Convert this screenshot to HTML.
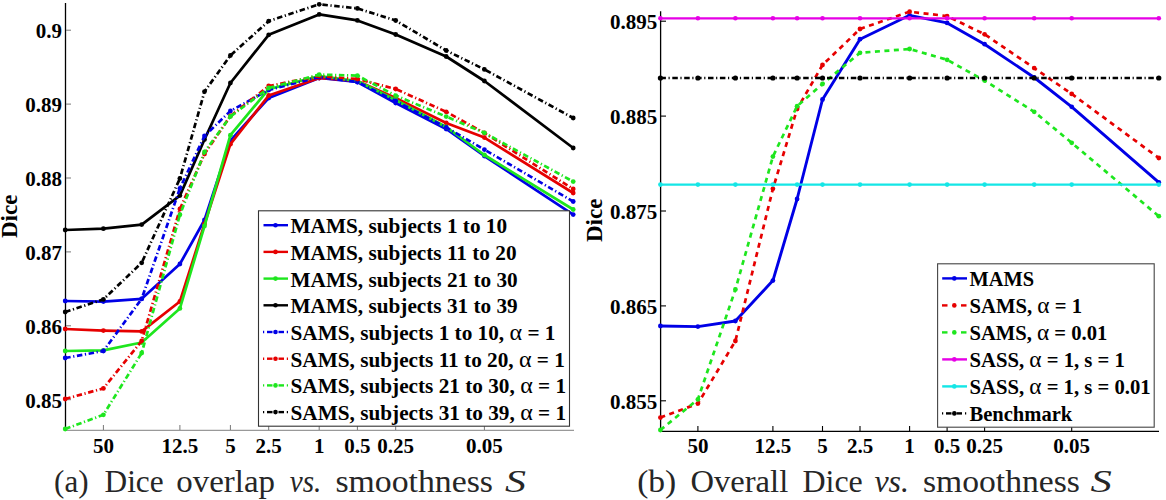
<!DOCTYPE html>
<html><head><meta charset="utf-8"><style>
html,body{margin:0;padding:0;background:#fff;overflow:hidden;width:1166px;height:500px;}
svg{display:block;}
.tk{font-family:"Liberation Serif",serif;font-weight:bold;font-size:21px;fill:#000;}
.yl{font-family:"Liberation Serif",serif;font-weight:bold;font-size:23px;fill:#000;}
.lg{font-family:"Liberation Serif",serif;font-weight:bold;font-size:21.25px;fill:#000;}
.al{font-weight:normal;font-size:24px;}
.cap{font-family:"Liberation Serif",serif;font-size:31.5px;fill:#262626;}
</style></head><body>
<svg width="1166" height="500" viewBox="0 0 1166 500">
<rect width="1166" height="500" fill="#fff"/>
<line x1="65.5" y1="3" x2="65.5" y2="430.5" stroke="#000" stroke-width="1.3"/>
<line x1="65.5" y1="430.3" x2="574" y2="430.3" stroke="#999" stroke-width="1.3"/>
<line x1="66" y1="30.2" x2="71" y2="30.2" stroke="#777" stroke-width="1"/>
<text x="62" y="38.0" text-anchor="end" class="tk">0.9</text>
<line x1="66" y1="104.1" x2="71" y2="104.1" stroke="#777" stroke-width="1"/>
<text x="62" y="111.89999999999999" text-anchor="end" class="tk">0.89</text>
<line x1="66" y1="178" x2="71" y2="178" stroke="#777" stroke-width="1"/>
<text x="62" y="185.8" text-anchor="end" class="tk">0.88</text>
<line x1="66" y1="251.9" x2="71" y2="251.9" stroke="#777" stroke-width="1"/>
<text x="62" y="259.7" text-anchor="end" class="tk">0.87</text>
<line x1="66" y1="325.8" x2="71" y2="325.8" stroke="#777" stroke-width="1"/>
<text x="62" y="333.6" text-anchor="end" class="tk">0.86</text>
<line x1="66" y1="399.7" x2="71" y2="399.7" stroke="#777" stroke-width="1"/>
<text x="62" y="407.5" text-anchor="end" class="tk">0.85</text>
<line x1="103.4" y1="430" x2="103.4" y2="425" stroke="#777" stroke-width="1"/>
<text x="103.4" y="452.8" text-anchor="middle" class="tk">50</text>
<line x1="179.9" y1="430" x2="179.9" y2="425" stroke="#777" stroke-width="1"/>
<text x="179.9" y="452.8" text-anchor="middle" class="tk">12.5</text>
<line x1="230.4" y1="430" x2="230.4" y2="425" stroke="#777" stroke-width="1"/>
<text x="230.4" y="452.8" text-anchor="middle" class="tk">5</text>
<line x1="268.7" y1="430" x2="268.7" y2="425" stroke="#777" stroke-width="1"/>
<text x="268.7" y="452.8" text-anchor="middle" class="tk">2.5</text>
<line x1="319.2" y1="430" x2="319.2" y2="425" stroke="#777" stroke-width="1"/>
<text x="319.2" y="452.8" text-anchor="middle" class="tk">1</text>
<line x1="357.4" y1="430" x2="357.4" y2="425" stroke="#777" stroke-width="1"/>
<text x="357.4" y="452.8" text-anchor="middle" class="tk">0.5</text>
<line x1="395.7" y1="430" x2="395.7" y2="425" stroke="#777" stroke-width="1"/>
<text x="395.7" y="452.8" text-anchor="middle" class="tk">0.25</text>
<line x1="484.4" y1="430" x2="484.4" y2="425" stroke="#777" stroke-width="1"/>
<text x="484.4" y="452.8" text-anchor="middle" class="tk">0.05</text>
<polyline points="65.2,301.0 103.4,301.6 141.7,298.8 179.9,264.0 204.5,220.0 230.4,140.6 268.7,98.0 319.2,78.0 357.4,82.0 395.7,103.0 446.2,129.0 484.4,156.0 573.2,214.6" fill="none" stroke="#0000e6" stroke-width="2.7" stroke-linejoin="round"/><circle cx="65.2" cy="301.0" r="2.4" fill="#0000e6"/><circle cx="103.4" cy="301.6" r="2.4" fill="#0000e6"/><circle cx="141.7" cy="298.8" r="2.4" fill="#0000e6"/><circle cx="179.9" cy="264.0" r="2.4" fill="#0000e6"/><circle cx="204.5" cy="220.0" r="2.4" fill="#0000e6"/><circle cx="230.4" cy="140.6" r="2.4" fill="#0000e6"/><circle cx="268.7" cy="98.0" r="2.4" fill="#0000e6"/><circle cx="319.2" cy="78.0" r="2.4" fill="#0000e6"/><circle cx="357.4" cy="82.0" r="2.4" fill="#0000e6"/><circle cx="395.7" cy="103.0" r="2.4" fill="#0000e6"/><circle cx="446.2" cy="129.0" r="2.4" fill="#0000e6"/><circle cx="484.4" cy="156.0" r="2.4" fill="#0000e6"/><circle cx="573.2" cy="214.6" r="2.4" fill="#0000e6"/>
<polyline points="65.2,329.0 103.4,330.6 141.7,331.4 179.9,301.5 204.5,224.0 230.4,144.2 268.7,95.5 319.2,78.0 357.4,81.0 395.7,98.0 446.2,123.0 484.4,137.6 573.2,193.0" fill="none" stroke="#e60000" stroke-width="2.7" stroke-linejoin="round"/><circle cx="65.2" cy="329.0" r="2.4" fill="#e60000"/><circle cx="103.4" cy="330.6" r="2.4" fill="#e60000"/><circle cx="141.7" cy="331.4" r="2.4" fill="#e60000"/><circle cx="179.9" cy="301.5" r="2.4" fill="#e60000"/><circle cx="204.5" cy="224.0" r="2.4" fill="#e60000"/><circle cx="230.4" cy="144.2" r="2.4" fill="#e60000"/><circle cx="268.7" cy="95.5" r="2.4" fill="#e60000"/><circle cx="319.2" cy="78.0" r="2.4" fill="#e60000"/><circle cx="357.4" cy="81.0" r="2.4" fill="#e60000"/><circle cx="395.7" cy="98.0" r="2.4" fill="#e60000"/><circle cx="446.2" cy="123.0" r="2.4" fill="#e60000"/><circle cx="484.4" cy="137.6" r="2.4" fill="#e60000"/><circle cx="573.2" cy="193.0" r="2.4" fill="#e60000"/>
<polyline points="65.2,351.0 103.4,350.4 141.7,342.5 179.9,308.4 204.5,226.0 230.4,135.2 268.7,89.2 319.2,76.0 357.4,81.0 395.7,100.0 446.2,127.0 484.4,155.0 573.2,209.5" fill="none" stroke="#1ee61e" stroke-width="2.7" stroke-linejoin="round"/><circle cx="65.2" cy="351.0" r="2.4" fill="#1ee61e"/><circle cx="103.4" cy="350.4" r="2.4" fill="#1ee61e"/><circle cx="141.7" cy="342.5" r="2.4" fill="#1ee61e"/><circle cx="179.9" cy="308.4" r="2.4" fill="#1ee61e"/><circle cx="204.5" cy="226.0" r="2.4" fill="#1ee61e"/><circle cx="230.4" cy="135.2" r="2.4" fill="#1ee61e"/><circle cx="268.7" cy="89.2" r="2.4" fill="#1ee61e"/><circle cx="319.2" cy="76.0" r="2.4" fill="#1ee61e"/><circle cx="357.4" cy="81.0" r="2.4" fill="#1ee61e"/><circle cx="395.7" cy="100.0" r="2.4" fill="#1ee61e"/><circle cx="446.2" cy="127.0" r="2.4" fill="#1ee61e"/><circle cx="484.4" cy="155.0" r="2.4" fill="#1ee61e"/><circle cx="573.2" cy="209.5" r="2.4" fill="#1ee61e"/>
<polyline points="65.2,230.0 103.4,228.7 141.7,224.6 179.9,195.6 204.5,139.5 230.4,83.0 268.7,34.8 319.2,14.4 357.4,20.4 395.7,34.5 446.2,56.5 484.4,81.0 573.2,148.0" fill="none" stroke="#000" stroke-width="2.7" stroke-linejoin="round"/><circle cx="65.2" cy="230.0" r="2.4" fill="#000"/><circle cx="103.4" cy="228.7" r="2.4" fill="#000"/><circle cx="141.7" cy="224.6" r="2.4" fill="#000"/><circle cx="179.9" cy="195.6" r="2.4" fill="#000"/><circle cx="204.5" cy="139.5" r="2.4" fill="#000"/><circle cx="230.4" cy="83.0" r="2.4" fill="#000"/><circle cx="268.7" cy="34.8" r="2.4" fill="#000"/><circle cx="319.2" cy="14.4" r="2.4" fill="#000"/><circle cx="357.4" cy="20.4" r="2.4" fill="#000"/><circle cx="395.7" cy="34.5" r="2.4" fill="#000"/><circle cx="446.2" cy="56.5" r="2.4" fill="#000"/><circle cx="484.4" cy="81.0" r="2.4" fill="#000"/><circle cx="573.2" cy="148.0" r="2.4" fill="#000"/>
<polyline points="65.2,358.0 103.4,351.0 141.7,298.8 179.9,188.4 204.5,136.0 230.4,111.0 268.7,90.0 319.2,77.0 357.4,82.0 395.7,101.0 446.2,127.4 484.4,149.6 573.2,201.5" fill="none" stroke="#0000e6" stroke-width="2.7" stroke-dasharray="5.5 2.6 1.2 2.6" stroke-linejoin="round"/><circle cx="65.2" cy="358.0" r="2.4" fill="#0000e6"/><circle cx="103.4" cy="351.0" r="2.4" fill="#0000e6"/><circle cx="141.7" cy="298.8" r="2.4" fill="#0000e6"/><circle cx="179.9" cy="188.4" r="2.4" fill="#0000e6"/><circle cx="204.5" cy="136.0" r="2.4" fill="#0000e6"/><circle cx="230.4" cy="111.0" r="2.4" fill="#0000e6"/><circle cx="268.7" cy="90.0" r="2.4" fill="#0000e6"/><circle cx="319.2" cy="77.0" r="2.4" fill="#0000e6"/><circle cx="357.4" cy="82.0" r="2.4" fill="#0000e6"/><circle cx="395.7" cy="101.0" r="2.4" fill="#0000e6"/><circle cx="446.2" cy="127.4" r="2.4" fill="#0000e6"/><circle cx="484.4" cy="149.6" r="2.4" fill="#0000e6"/><circle cx="573.2" cy="201.5" r="2.4" fill="#0000e6"/>
<polyline points="65.2,399.0 103.4,388.4 141.7,341.0 179.9,209.0 204.5,154.0 230.4,116.0 268.7,86.0 319.2,76.0 357.4,79.0 395.7,89.0 446.2,111.8 484.4,133.0 573.2,189.0" fill="none" stroke="#e60000" stroke-width="2.7" stroke-dasharray="5.5 2.6 1.2 2.6" stroke-linejoin="round"/><circle cx="65.2" cy="399.0" r="2.4" fill="#e60000"/><circle cx="103.4" cy="388.4" r="2.4" fill="#e60000"/><circle cx="141.7" cy="341.0" r="2.4" fill="#e60000"/><circle cx="179.9" cy="209.0" r="2.4" fill="#e60000"/><circle cx="204.5" cy="154.0" r="2.4" fill="#e60000"/><circle cx="230.4" cy="116.0" r="2.4" fill="#e60000"/><circle cx="268.7" cy="86.0" r="2.4" fill="#e60000"/><circle cx="319.2" cy="76.0" r="2.4" fill="#e60000"/><circle cx="357.4" cy="79.0" r="2.4" fill="#e60000"/><circle cx="395.7" cy="89.0" r="2.4" fill="#e60000"/><circle cx="446.2" cy="111.8" r="2.4" fill="#e60000"/><circle cx="484.4" cy="133.0" r="2.4" fill="#e60000"/><circle cx="573.2" cy="189.0" r="2.4" fill="#e60000"/>
<polyline points="65.2,429.0 103.4,414.8 141.7,353.0 179.9,214.8 204.5,152.0 230.4,116.5 268.7,88.0 319.2,74.6 357.4,75.6 395.7,95.6 446.2,116.6 484.4,132.8 573.2,181.6" fill="none" stroke="#1ee61e" stroke-width="2.7" stroke-dasharray="5.5 2.6 1.2 2.6" stroke-linejoin="round"/><circle cx="65.2" cy="429.0" r="2.4" fill="#1ee61e"/><circle cx="103.4" cy="414.8" r="2.4" fill="#1ee61e"/><circle cx="141.7" cy="353.0" r="2.4" fill="#1ee61e"/><circle cx="179.9" cy="214.8" r="2.4" fill="#1ee61e"/><circle cx="204.5" cy="152.0" r="2.4" fill="#1ee61e"/><circle cx="230.4" cy="116.5" r="2.4" fill="#1ee61e"/><circle cx="268.7" cy="88.0" r="2.4" fill="#1ee61e"/><circle cx="319.2" cy="74.6" r="2.4" fill="#1ee61e"/><circle cx="357.4" cy="75.6" r="2.4" fill="#1ee61e"/><circle cx="395.7" cy="95.6" r="2.4" fill="#1ee61e"/><circle cx="446.2" cy="116.6" r="2.4" fill="#1ee61e"/><circle cx="484.4" cy="132.8" r="2.4" fill="#1ee61e"/><circle cx="573.2" cy="181.6" r="2.4" fill="#1ee61e"/>
<polyline points="65.2,312.0 103.4,299.4 141.7,262.8 179.9,178.5 204.5,91.6 230.4,55.5 268.7,21.1 319.2,4.3 357.4,8.4 395.7,20.5 446.2,50.5 484.4,69.4 573.2,118.0" fill="none" stroke="#000" stroke-width="2.7" stroke-dasharray="5.5 2.6 1.2 2.6" stroke-linejoin="round"/><circle cx="65.2" cy="312.0" r="2.4" fill="#000"/><circle cx="103.4" cy="299.4" r="2.4" fill="#000"/><circle cx="141.7" cy="262.8" r="2.4" fill="#000"/><circle cx="179.9" cy="178.5" r="2.4" fill="#000"/><circle cx="204.5" cy="91.6" r="2.4" fill="#000"/><circle cx="230.4" cy="55.5" r="2.4" fill="#000"/><circle cx="268.7" cy="21.1" r="2.4" fill="#000"/><circle cx="319.2" cy="4.3" r="2.4" fill="#000"/><circle cx="357.4" cy="8.4" r="2.4" fill="#000"/><circle cx="395.7" cy="20.5" r="2.4" fill="#000"/><circle cx="446.2" cy="50.5" r="2.4" fill="#000"/><circle cx="484.4" cy="69.4" r="2.4" fill="#000"/><circle cx="573.2" cy="118.0" r="2.4" fill="#000"/>
<text transform="translate(17,238) rotate(-90)" class="yl">Dice</text>
<rect x="258.5" y="210.8" width="311" height="215.4" fill="#fff" stroke="#333" stroke-width="1.1"/>
<line x1="263.5" y1="225.2" x2="288" y2="225.2" stroke="#0000e6" stroke-width="2.4"/>
<circle cx="275.5" cy="225.2" r="2.3" fill="#0000e6"/>
<text x="290.5" y="233.2" class="lg">MAMS, subjects 1 to 10</text>
<line x1="263.5" y1="251.9" x2="288" y2="251.9" stroke="#e60000" stroke-width="2.4"/>
<circle cx="275.5" cy="251.9" r="2.3" fill="#e60000"/>
<text x="290.5" y="259.9" class="lg">MAMS, subjects 11 to 20</text>
<line x1="263.5" y1="278.6" x2="288" y2="278.6" stroke="#1ee61e" stroke-width="2.4"/>
<circle cx="275.5" cy="278.6" r="2.3" fill="#1ee61e"/>
<text x="290.5" y="286.6" class="lg">MAMS, subjects 21 to 30</text>
<line x1="263.5" y1="305.3" x2="288" y2="305.3" stroke="#000" stroke-width="2.4"/>
<circle cx="275.5" cy="305.3" r="2.3" fill="#000"/>
<text x="290.5" y="313.3" class="lg">MAMS, subjects 31 to 39</text>
<line x1="263" y1="332.0" x2="264.2" y2="332.0" stroke="#0000e6" stroke-width="2.4"/>
<line x1="267" y1="332.0" x2="272.5" y2="332.0" stroke="#0000e6" stroke-width="2.4"/>
<line x1="278.5" y1="332.0" x2="284" y2="332.0" stroke="#0000e6" stroke-width="2.4"/>
<line x1="286.8" y1="332.0" x2="288" y2="332.0" stroke="#0000e6" stroke-width="2.4"/>
<circle cx="275.5" cy="332.0" r="2.3" fill="#0000e6"/>
<text x="290.5" y="340.0" class="lg">SAMS, subjects 1 to 10, <tspan class="al">α</tspan> = 1</text>
<line x1="263" y1="358.7" x2="264.2" y2="358.7" stroke="#e60000" stroke-width="2.4"/>
<line x1="267" y1="358.7" x2="272.5" y2="358.7" stroke="#e60000" stroke-width="2.4"/>
<line x1="278.5" y1="358.7" x2="284" y2="358.7" stroke="#e60000" stroke-width="2.4"/>
<line x1="286.8" y1="358.7" x2="288" y2="358.7" stroke="#e60000" stroke-width="2.4"/>
<circle cx="275.5" cy="358.7" r="2.3" fill="#e60000"/>
<text x="290.5" y="366.7" class="lg">SAMS, subjects 11 to 20, <tspan class="al">α</tspan> = 1</text>
<line x1="263" y1="385.4" x2="264.2" y2="385.4" stroke="#1ee61e" stroke-width="2.4"/>
<line x1="267" y1="385.4" x2="272.5" y2="385.4" stroke="#1ee61e" stroke-width="2.4"/>
<line x1="278.5" y1="385.4" x2="284" y2="385.4" stroke="#1ee61e" stroke-width="2.4"/>
<line x1="286.8" y1="385.4" x2="288" y2="385.4" stroke="#1ee61e" stroke-width="2.4"/>
<circle cx="275.5" cy="385.4" r="2.3" fill="#1ee61e"/>
<text x="290.5" y="393.4" class="lg">SAMS, subjects 21 to 30, <tspan class="al">α</tspan> = 1</text>
<line x1="263" y1="412.1" x2="264.2" y2="412.1" stroke="#000" stroke-width="2.4"/>
<line x1="267" y1="412.1" x2="272.5" y2="412.1" stroke="#000" stroke-width="2.4"/>
<line x1="278.5" y1="412.1" x2="284" y2="412.1" stroke="#000" stroke-width="2.4"/>
<line x1="286.8" y1="412.1" x2="288" y2="412.1" stroke="#000" stroke-width="2.4"/>
<circle cx="275.5" cy="412.1" r="2.3" fill="#000"/>
<text x="290.5" y="420.1" class="lg">SAMS, subjects 31 to 39, <tspan class="al">α</tspan> = 1</text>
<line x1="660.6" y1="11.2" x2="660.6" y2="431.5" stroke="#000" stroke-width="1.3"/>
<line x1="660.6" y1="431.4" x2="1159" y2="431.4" stroke="#000" stroke-width="1.2"/>
<line x1="661" y1="21.2" x2="666" y2="21.2" stroke="#000" stroke-width="1.1"/>
<text x="657.2" y="29.0" text-anchor="end" class="tk">0.895</text>
<line x1="661" y1="116.1" x2="666" y2="116.1" stroke="#000" stroke-width="1.1"/>
<text x="657.2" y="123.89999999999999" text-anchor="end" class="tk">0.885</text>
<line x1="661" y1="211" x2="666" y2="211" stroke="#000" stroke-width="1.1"/>
<text x="657.2" y="218.8" text-anchor="end" class="tk">0.875</text>
<line x1="661" y1="305.9" x2="666" y2="305.9" stroke="#000" stroke-width="1.1"/>
<text x="657.2" y="313.7" text-anchor="end" class="tk">0.865</text>
<line x1="661" y1="400.8" x2="666" y2="400.8" stroke="#000" stroke-width="1.1"/>
<text x="657.2" y="408.6" text-anchor="end" class="tk">0.855</text>
<line x1="697.9" y1="431" x2="697.9" y2="426" stroke="#000" stroke-width="1.1"/>
<text x="697.9" y="453.0" text-anchor="middle" class="tk">50</text>
<line x1="772.9" y1="431" x2="772.9" y2="426" stroke="#000" stroke-width="1.1"/>
<text x="772.9" y="453.0" text-anchor="middle" class="tk">12.5</text>
<line x1="822.5" y1="431" x2="822.5" y2="426" stroke="#000" stroke-width="1.1"/>
<text x="822.5" y="453.0" text-anchor="middle" class="tk">5</text>
<line x1="860.0" y1="431" x2="860.0" y2="426" stroke="#000" stroke-width="1.1"/>
<text x="860.0" y="453.0" text-anchor="middle" class="tk">2.5</text>
<line x1="909.6" y1="431" x2="909.6" y2="426" stroke="#000" stroke-width="1.1"/>
<text x="909.6" y="453.0" text-anchor="middle" class="tk">1</text>
<line x1="947.1" y1="431" x2="947.1" y2="426" stroke="#000" stroke-width="1.1"/>
<text x="947.1" y="453.0" text-anchor="middle" class="tk">0.5</text>
<line x1="984.6" y1="431" x2="984.6" y2="426" stroke="#000" stroke-width="1.1"/>
<text x="984.6" y="453.0" text-anchor="middle" class="tk">0.25</text>
<line x1="1071.7" y1="431" x2="1071.7" y2="426" stroke="#000" stroke-width="1.1"/>
<text x="1071.7" y="453.0" text-anchor="middle" class="tk">0.05</text>
<polyline points="660.4,326.0 697.9,326.6 735.4,321.0 772.9,280.6 797.1,199.0 822.5,99.5 860.0,39.2 909.6,15.3 947.1,22.9 984.6,44.2 1034.2,77.5 1071.7,106.8 1158.8,182.4" fill="none" stroke="#0000e6" stroke-width="2.9" stroke-linejoin="round"/><circle cx="660.4" cy="326.0" r="2.4" fill="#0000e6"/><circle cx="697.9" cy="326.6" r="2.4" fill="#0000e6"/><circle cx="735.4" cy="321.0" r="2.4" fill="#0000e6"/><circle cx="772.9" cy="280.6" r="2.4" fill="#0000e6"/><circle cx="797.1" cy="199.0" r="2.4" fill="#0000e6"/><circle cx="822.5" cy="99.5" r="2.4" fill="#0000e6"/><circle cx="860.0" cy="39.2" r="2.4" fill="#0000e6"/><circle cx="909.6" cy="15.3" r="2.4" fill="#0000e6"/><circle cx="947.1" cy="22.9" r="2.4" fill="#0000e6"/><circle cx="984.6" cy="44.2" r="2.4" fill="#0000e6"/><circle cx="1034.2" cy="77.5" r="2.4" fill="#0000e6"/><circle cx="1071.7" cy="106.8" r="2.4" fill="#0000e6"/><circle cx="1158.8" cy="182.4" r="2.4" fill="#0000e6"/>
<polyline points="660.4,417.6 697.9,403.6 735.4,341.0 772.9,188.8 797.1,109.0 822.5,65.0 860.0,29.0 909.6,11.7 947.1,16.1 984.6,34.3 1034.2,68.1 1071.7,93.9 1158.8,158.0" fill="none" stroke="#e60000" stroke-width="2.7" stroke-dasharray="5 4.5" stroke-linejoin="round"/><circle cx="660.4" cy="417.6" r="2.4" fill="#e60000"/><circle cx="697.9" cy="403.6" r="2.4" fill="#e60000"/><circle cx="735.4" cy="341.0" r="2.4" fill="#e60000"/><circle cx="772.9" cy="188.8" r="2.4" fill="#e60000"/><circle cx="797.1" cy="109.0" r="2.4" fill="#e60000"/><circle cx="822.5" cy="65.0" r="2.4" fill="#e60000"/><circle cx="860.0" cy="29.0" r="2.4" fill="#e60000"/><circle cx="909.6" cy="11.7" r="2.4" fill="#e60000"/><circle cx="947.1" cy="16.1" r="2.4" fill="#e60000"/><circle cx="984.6" cy="34.3" r="2.4" fill="#e60000"/><circle cx="1034.2" cy="68.1" r="2.4" fill="#e60000"/><circle cx="1071.7" cy="93.9" r="2.4" fill="#e60000"/><circle cx="1158.8" cy="158.0" r="2.4" fill="#e60000"/>
<polyline points="660.4,430.0 697.9,399.4 735.4,289.5 772.9,156.6 797.1,106.2 822.5,84.0 860.0,52.8 909.6,49.0 947.1,59.8 984.6,80.6 1034.2,111.8 1071.7,142.8 1158.8,216.2" fill="none" stroke="#1ee61e" stroke-width="2.7" stroke-dasharray="5 4.5" stroke-linejoin="round"/><circle cx="660.4" cy="430.0" r="2.4" fill="#1ee61e"/><circle cx="697.9" cy="399.4" r="2.4" fill="#1ee61e"/><circle cx="735.4" cy="289.5" r="2.4" fill="#1ee61e"/><circle cx="772.9" cy="156.6" r="2.4" fill="#1ee61e"/><circle cx="797.1" cy="106.2" r="2.4" fill="#1ee61e"/><circle cx="822.5" cy="84.0" r="2.4" fill="#1ee61e"/><circle cx="860.0" cy="52.8" r="2.4" fill="#1ee61e"/><circle cx="909.6" cy="49.0" r="2.4" fill="#1ee61e"/><circle cx="947.1" cy="59.8" r="2.4" fill="#1ee61e"/><circle cx="984.6" cy="80.6" r="2.4" fill="#1ee61e"/><circle cx="1034.2" cy="111.8" r="2.4" fill="#1ee61e"/><circle cx="1071.7" cy="142.8" r="2.4" fill="#1ee61e"/><circle cx="1158.8" cy="216.2" r="2.4" fill="#1ee61e"/>
<polyline points="660.4,18.3 697.9,18.3 735.4,18.3 772.9,18.3 797.1,18.3 822.5,18.3 860.0,18.3 909.6,18.3 947.1,18.3 984.6,18.3 1034.2,18.3 1071.7,18.3 1158.8,18.3" fill="none" stroke="#e600e6" stroke-width="2.2" stroke-linejoin="round"/><circle cx="660.4" cy="18.3" r="2.3" fill="#e600e6"/><circle cx="697.9" cy="18.3" r="2.3" fill="#e600e6"/><circle cx="735.4" cy="18.3" r="2.3" fill="#e600e6"/><circle cx="772.9" cy="18.3" r="2.3" fill="#e600e6"/><circle cx="797.1" cy="18.3" r="2.3" fill="#e600e6"/><circle cx="822.5" cy="18.3" r="2.3" fill="#e600e6"/><circle cx="860.0" cy="18.3" r="2.3" fill="#e600e6"/><circle cx="909.6" cy="18.3" r="2.3" fill="#e600e6"/><circle cx="947.1" cy="18.3" r="2.3" fill="#e600e6"/><circle cx="984.6" cy="18.3" r="2.3" fill="#e600e6"/><circle cx="1034.2" cy="18.3" r="2.3" fill="#e600e6"/><circle cx="1071.7" cy="18.3" r="2.3" fill="#e600e6"/><circle cx="1158.8" cy="18.3" r="2.3" fill="#e600e6"/>
<polyline points="660.4,184.6 697.9,184.6 735.4,184.6 772.9,184.6 797.1,184.6 822.5,184.6 860.0,184.6 909.6,184.6 947.1,184.6 984.6,184.6 1034.2,184.6 1071.7,184.6 1158.8,184.6" fill="none" stroke="#14e6e6" stroke-width="2.2" stroke-linejoin="round"/><circle cx="660.4" cy="184.6" r="2.3" fill="#14e6e6"/><circle cx="697.9" cy="184.6" r="2.3" fill="#14e6e6"/><circle cx="735.4" cy="184.6" r="2.3" fill="#14e6e6"/><circle cx="772.9" cy="184.6" r="2.3" fill="#14e6e6"/><circle cx="797.1" cy="184.6" r="2.3" fill="#14e6e6"/><circle cx="822.5" cy="184.6" r="2.3" fill="#14e6e6"/><circle cx="860.0" cy="184.6" r="2.3" fill="#14e6e6"/><circle cx="909.6" cy="184.6" r="2.3" fill="#14e6e6"/><circle cx="947.1" cy="184.6" r="2.3" fill="#14e6e6"/><circle cx="984.6" cy="184.6" r="2.3" fill="#14e6e6"/><circle cx="1034.2" cy="184.6" r="2.3" fill="#14e6e6"/><circle cx="1071.7" cy="184.6" r="2.3" fill="#14e6e6"/><circle cx="1158.8" cy="184.6" r="2.3" fill="#14e6e6"/>
<polyline points="660.4,78.0 697.9,78.0 735.4,78.0 772.9,78.0 797.1,78.0 822.5,78.0 860.0,78.0 909.6,78.0 947.1,78.0 984.6,78.0 1034.2,78.0 1071.7,78.0 1158.8,78.0" fill="none" stroke="#000" stroke-width="2.4" stroke-dasharray="5.5 2.6 1.2 2.6" stroke-linejoin="round"/><circle cx="660.4" cy="78.0" r="2.6" fill="#000"/><circle cx="697.9" cy="78.0" r="2.6" fill="#000"/><circle cx="735.4" cy="78.0" r="2.6" fill="#000"/><circle cx="772.9" cy="78.0" r="2.6" fill="#000"/><circle cx="797.1" cy="78.0" r="2.6" fill="#000"/><circle cx="822.5" cy="78.0" r="2.6" fill="#000"/><circle cx="860.0" cy="78.0" r="2.6" fill="#000"/><circle cx="909.6" cy="78.0" r="2.6" fill="#000"/><circle cx="947.1" cy="78.0" r="2.6" fill="#000"/><circle cx="984.6" cy="78.0" r="2.6" fill="#000"/><circle cx="1034.2" cy="78.0" r="2.6" fill="#000"/><circle cx="1071.7" cy="78.0" r="2.6" fill="#000"/><circle cx="1158.8" cy="78.0" r="2.6" fill="#000"/>
<text transform="translate(602,242) rotate(-90)" class="yl">Dice</text>
<rect x="937.6" y="263.8" width="216.6" height="163.4" fill="#fff" stroke="#444" stroke-width="1.1"/>
<line x1="942.2" y1="278.4" x2="967" y2="278.4" stroke="#0000e6" stroke-width="2.4"/>
<circle cx="954.3" cy="278.4" r="2.3" fill="#0000e6"/>
<text x="969.5" y="285.6" class="lg" textLength="64.5" lengthAdjust="spacingAndGlyphs">MAMS</text>
<line x1="942" y1="305.4" x2="947.5" y2="305.4" stroke="#e60000" stroke-width="2.4"/>
<line x1="961" y1="305.4" x2="966.5" y2="305.4" stroke="#e60000" stroke-width="2.4"/>
<circle cx="954.3" cy="305.4" r="2.3" fill="#e60000"/>
<text x="969.5" y="312.6" class="lg" textLength="112.5" lengthAdjust="spacingAndGlyphs">SAMS, <tspan class="al">α</tspan> = 1</text>
<line x1="942" y1="332.4" x2="947.5" y2="332.4" stroke="#1ee61e" stroke-width="2.4"/>
<line x1="961" y1="332.4" x2="966.5" y2="332.4" stroke="#1ee61e" stroke-width="2.4"/>
<circle cx="954.3" cy="332.4" r="2.3" fill="#1ee61e"/>
<text x="969.5" y="339.6" class="lg" textLength="137.8" lengthAdjust="spacingAndGlyphs">SAMS, <tspan class="al">α</tspan> = 0.01</text>
<line x1="942.2" y1="359.4" x2="967" y2="359.4" stroke="#e600e6" stroke-width="2.4"/>
<circle cx="954.3" cy="359.4" r="2.3" fill="#e600e6"/>
<text x="969.5" y="366.6" class="lg" textLength="155.4" lengthAdjust="spacingAndGlyphs">SASS, <tspan class="al">α</tspan> = 1, s = 1</text>
<line x1="942.2" y1="386.4" x2="967" y2="386.4" stroke="#14e6e6" stroke-width="2.4"/>
<circle cx="954.3" cy="386.4" r="2.3" fill="#14e6e6"/>
<text x="969.5" y="393.6" class="lg" textLength="181.1" lengthAdjust="spacingAndGlyphs">SASS, <tspan class="al">α</tspan> = 1, s = 0.01</text>
<line x1="942" y1="413.4" x2="943.2" y2="413.4" stroke="#000" stroke-width="2.4"/>
<line x1="946" y1="413.4" x2="951.5" y2="413.4" stroke="#000" stroke-width="2.4"/>
<line x1="956.5" y1="413.4" x2="962" y2="413.4" stroke="#000" stroke-width="2.4"/>
<line x1="965" y1="413.4" x2="966.2" y2="413.4" stroke="#000" stroke-width="2.4"/>
<circle cx="954.3" cy="413.4" r="2.3" fill="#000"/>
<text x="969.5" y="420.6" class="lg" textLength="102.7" lengthAdjust="spacingAndGlyphs">Benchmark</text>
<text x="54.1" y="491.6" class="cap" textLength="34.5" lengthAdjust="spacingAndGlyphs">(a)</text>
<text x="104.5" y="491.6" class="cap" textLength="59.2" lengthAdjust="spacingAndGlyphs">Dice</text>
<text x="176.2" y="491.6" class="cap" textLength="98.8" lengthAdjust="spacingAndGlyphs">overlap</text>
<text x="289.7" y="491.6" class="cap" font-style="italic" textLength="31.6" lengthAdjust="spacingAndGlyphs">vs.</text>
<text x="335.4" y="491.6" class="cap" textLength="157.6" lengthAdjust="spacingAndGlyphs">smoothness</text>
<text x="505" y="491.6" class="cap" font-style="italic" textLength="21.0" lengthAdjust="spacingAndGlyphs">S</text>
<text x="637.2" y="491.6" class="cap" textLength="39.1" lengthAdjust="spacingAndGlyphs">(b)</text>
<text x="690.5" y="491.6" class="cap" textLength="97.7" lengthAdjust="spacingAndGlyphs">Overall</text>
<text x="802.4" y="491.6" class="cap" textLength="60.4" lengthAdjust="spacingAndGlyphs">Dice</text>
<text x="874.4" y="491.6" class="cap" font-style="italic" textLength="34.7" lengthAdjust="spacingAndGlyphs">vs.</text>
<text x="923" y="491.6" class="cap" textLength="156.9" lengthAdjust="spacingAndGlyphs">smoothness</text>
<text x="1090.5" y="491.6" class="cap" font-style="italic" textLength="21.3" lengthAdjust="spacingAndGlyphs">S</text>
</svg></body></html>
